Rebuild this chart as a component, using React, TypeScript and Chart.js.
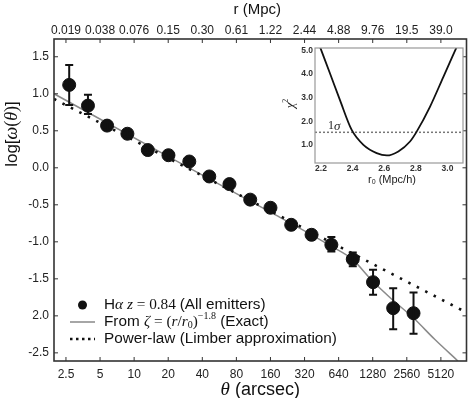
import React, { useEffect, useRef } from 'react';
import { Chart, registerables } from 'chart.js';

Chart.register(...registerables);

const SANS = '"Liberation Sans", Arial, sans-serif';
const SERIF = '"Liberation Serif", "DejaVu Serif", serif';

// ---- main panel axes ----
const thetaTicks = [2.5, 5, 10, 20, 40, 80, 160, 320, 640, 1280, 2560, 5120];
const thetaTickLabels = ['2.5', '5', '10', '20', '40', '80', '160', '320', '640', '1280', '2560', '5120'];
const rTickLabels = ['0.019', '0.038', '0.076', '0.15', '0.30', '0.61', '1.22', '2.44', '4.88', '9.76', '19.5', '39.0'];
const yTicks = [1.5, 1.0, 0.5, 0.0, -0.5, -1.0, -1.5, -2.0, -2.5];
const yTickLabels = ['1.5', '1.0', '0.5', '0.0', '-0.5', '-1.0', '-1.5', '2.0', '-2.5'];

// ---- measured data (Halpha z=0.84, all emitters) ----
const thetaData = [2.67, 3.91, 5.77, 8.72, 13.2, 20.1, 30.7, 46.1, 69.5, 106, 160, 244, 369, 552, 853, 1289, 1941, 2935];
const logW = [1.12, 0.84, 0.57, 0.46, 0.24, 0.17, 0.085, -0.117, -0.22, -0.43, -0.54, -0.77, -0.905, -1.04, -1.235, -1.545, -1.896, -1.964];
const errLow = [0.85, 0.726, 0.52, 0.42, 0.21, 0.14, 0.06, -0.14, -0.25, -0.46, -0.57, -0.80, -0.94, -1.131, -1.33, -1.716, -2.18, -2.243];
const errHigh = [1.39, 0.986, 0.62, 0.50, 0.27, 0.20, 0.11, -0.09, -0.19, -0.40, -0.51, -0.74, -0.87, -0.936, -1.145, -1.378, -1.626, -1.684];

// exact model from zeta = (r/r0)^-1.8
const exactTheta = [1.96, 20.1, 160, 369, 552, 853, 1274, 1903, 2935, 4535, 7240];
const exactLogW = [1.0, 0.15, -0.60, -0.905, -1.06, -1.24, -1.53, -1.78, -2.03, -2.32, -2.61];

// power-law (Limber approximation)
const limberTheta = [1.96, 8620];
const limberLogW = [0.93, -1.955];

// ---- inset: chi^2 vs r0 ----
const r0Ticks = [2.2, 2.4, 2.6, 2.8, 3.0];
const chiTicks = [1.0, 2.0, 3.0, 4.0, 5.0];
const r0Values = [2.194, 2.257, 2.32, 2.394, 2.468, 2.552, 2.616, 2.689, 2.763, 2.805, 2.889, 2.974, 3.058];
const chi2Values = [5.14, 4.02, 2.89, 1.63, 1.0, 0.65, 0.55, 0.72, 1.14, 1.56, 2.61, 3.88, 5.14];
const sigmaLevel = 1.53;
const r0Range = [2.162, 3.098];

type Seg = { t: string; f: string; dy?: number };

function drawRich(ctx: CanvasRenderingContext2D, segs: Seg[], x: number, y: number, align: 'left' | 'center') {
  let total = 0;
  for (const s of segs) {
    ctx.font = s.f;
    total += ctx.measureText(s.t).width;
  }
  let cx = align === 'center' ? x - total / 2 : x;
  ctx.textAlign = 'left';
  ctx.textBaseline = 'middle';
  for (const s of segs) {
    ctx.font = s.f;
    ctx.fillText(s.t, cx, y + (s.dy || 0));
    cx += ctx.measureText(s.t).width;
  }
}

const mainPlugin = {
  id: 'mainDecor',
  afterDatasetsDraw(chart: any) {
    const { ctx } = chart;
    const xs = chart.scales.x;
    const ys = chart.scales.y;
    ctx.save();
    ctx.strokeStyle = '#111';
    ctx.lineWidth = 2;
    thetaData.forEach((t, i) => {
      const px = xs.getPixelForValue(t);
      const y1 = ys.getPixelForValue(errLow[i]);
      const y2 = ys.getPixelForValue(errHigh[i]);
      ctx.beginPath();
      ctx.moveTo(px, y1);
      ctx.lineTo(px, y2);
      ctx.moveTo(px - 4, y1);
      ctx.lineTo(px + 4, y1);
      ctx.moveTo(px - 4, y2);
      ctx.lineTo(px + 4, y2);
      ctx.stroke();
    });
    ctx.restore();
  },
  afterDraw(chart: any) {
    const { ctx, chartArea: ca } = chart;
    const xs = chart.scales.x;
    const ys = chart.scales.y;
    ctx.save();
    // frame
    ctx.strokeStyle = '#333';
    ctx.lineWidth = 1.6;
    ctx.strokeRect(ca.left, ca.top, ca.right - ca.left, ca.bottom - ca.top);
    // inward ticks
    ctx.lineWidth = 1;
    ctx.beginPath();
    thetaTicks.forEach((v) => {
      const px = xs.getPixelForValue(v);
      ctx.moveTo(px, ca.bottom);
      ctx.lineTo(px, ca.bottom - 4);
      ctx.moveTo(px, ca.top);
      ctx.lineTo(px, ca.top + 4);
    });
    yTicks.forEach((v) => {
      const py = ys.getPixelForValue(v);
      ctx.moveTo(ca.left, py);
      ctx.lineTo(ca.left + 4, py);
      ctx.moveTo(ca.right, py);
      ctx.lineTo(ca.right - 4, py);
    });
    ctx.stroke();

    // titles
    ctx.fillStyle = '#111';
    const cx = (ca.left + ca.right) / 2;
    drawRich(ctx, [{ t: 'r (Mpc)', f: `15px ${SANS}` }], cx - 3, 10, 'center');
    drawRich(
      ctx,
      [
        { t: 'θ', f: `italic 19px ${SERIF}` },
        { t: ' (arcsec)', f: `18px ${SANS}` },
      ],
      cx,
      390,
      'center'
    );
    ctx.save();
    ctx.translate(12, 134);
    ctx.rotate(-Math.PI / 2);
    drawRich(
      ctx,
      [
        { t: 'log[', f: `17px ${SANS}` },
        { t: 'ω', f: `italic 18px ${SERIF}` },
        { t: '(', f: `18px ${SERIF}` },
        { t: 'θ', f: `italic 18px ${SERIF}` },
        { t: ')', f: `18px ${SERIF}` },
        { t: ']', f: `17px ${SANS}` },
      ],
      0,
      0,
      'center'
    );
    ctx.restore();

    // legend
    const lx0 = 70;
    const lx1 = 95;
    const tx = 104;
    const rows = [305, 322, 339];
    ctx.fillStyle = '#111';
    ctx.beginPath();
    ctx.arc((lx0 + lx1) / 2, rows[0], 4.5, 0, Math.PI * 2);
    ctx.fill();
    ctx.strokeStyle = '#888';
    ctx.lineWidth = 1.5;
    ctx.beginPath();
    ctx.moveTo(lx0, rows[1]);
    ctx.lineTo(lx1, rows[1]);
    ctx.stroke();
    ctx.strokeStyle = '#111';
    ctx.lineWidth = 2.5;
    ctx.setLineDash([2.5, 3.5]);
    ctx.beginPath();
    ctx.moveTo(lx0, rows[2]);
    ctx.lineTo(lx1, rows[2]);
    ctx.stroke();
    ctx.setLineDash([]);

    const fs = `15.3px ${SANS}`;
    const fi = `italic 15.3px ${SERIF}`;
    const fr = `15.3px ${SERIF}`;
    ctx.fillStyle = '#111';
    drawRich(
      ctx,
      [
        { t: 'H', f: fs },
        { t: 'α', f: fi },
        { t: ' ', f: fr },
        { t: 'z', f: fi },
        { t: ' = 0.84 ', f: fr },
        { t: '(All emitters)', f: fs },
      ],
      tx,
      rows[0],
      'left'
    );
    drawRich(
      ctx,
      [
        { t: 'From ', f: fs },
        { t: 'ζ', f: fi },
        { t: ' = (', f: fr },
        { t: 'r', f: fi },
        { t: '/', f: fr },
        { t: 'r', f: fi },
        { t: '0', f: `10px ${SERIF}`, dy: 3 },
        { t: ')', f: fr },
        { t: '−1.8', f: `10px ${SERIF}`, dy: -6 },
        { t: ' (Exact)', f: fs },
      ],
      tx,
      rows[1],
      'left'
    );
    drawRich(ctx, [{ t: 'Power-law (Limber approximation)', f: fs }], tx, rows[2], 'left');
    ctx.restore();
  },
};

const insetPlugin = {
  id: 'insetDecor',
  beforeDraw(chart: any) {
    const { ctx, chartArea: ca } = chart;
    ctx.save();
    ctx.fillStyle = '#fff';
    ctx.fillRect(ca.left, ca.top, ca.right - ca.left, ca.bottom - ca.top);
    ctx.restore();
  },
  afterDraw(chart: any) {
    const { ctx, chartArea: ca } = chart;
    const ys = chart.scales.y;
    ctx.save();
    ctx.strokeStyle = '#999';
    ctx.lineWidth = 1.2;
    ctx.strokeRect(ca.left, ca.top, ca.right - ca.left, ca.bottom - ca.top);
    ctx.fillStyle = '#222';
    drawRich(
      ctx,
      [
        { t: '1', f: `12px ${SERIF}` },
        { t: 'σ', f: `italic 13px ${SERIF}` },
      ],
      ca.left + 13,
      ys.getPixelForValue(sigmaLevel) - 6,
      'left'
    );
    drawRich(
      ctx,
      [
        { t: 'r', f: `11px ${SANS}` },
        { t: '0', f: `7px ${SANS}`, dy: 2 },
        { t: ' (Mpc/h)', f: `11px ${SANS}` },
      ],
      (ca.left + ca.right) / 2 + 3,
      ca.bottom + 17,
      'center'
    );
    ctx.save();
    ctx.translate(ca.left - 24, (ca.top + ca.bottom) / 2 - 2);
    ctx.rotate(-Math.PI / 2);
    drawRich(
      ctx,
      [
        { t: 'χ', f: `italic 13px ${SERIF}` },
        { t: '2', f: `8px ${SERIF}`, dy: -5 },
      ],
      0,
      0,
      'center'
    );
    ctx.restore();
    ctx.restore();
  },
};

export default function App() {
  const mainRef = useRef<HTMLCanvasElement>(null);
  const insetRef = useRef<HTMLCanvasElement>(null);

  useEffect(() => {
    if (!mainRef.current || !insetRef.current) return;
    const tickFont = { family: SANS, size: 12 };

    const main = new Chart(mainRef.current, {
      type: 'scatter',
      data: {
        datasets: [
          {
            label: 'Hα z = 0.84 (All emitters)',
            data: thetaData.map((t, i) => ({ x: t, y: logW[i] })),
            showLine: false,
            pointRadius: 6.5,
            pointHoverRadius: 6.5,
            backgroundColor: '#111',
            borderColor: '#111',
            order: 0,
          },
          {
            label: 'From ζ=(r/r0)^-1.8 (Exact)',
            data: exactTheta.map((t, i) => ({ x: t, y: exactLogW[i] })),
            showLine: true,
            pointRadius: 0,
            borderColor: '#8a8a8a',
            borderWidth: 1.5,
            cubicInterpolationMode: 'monotone',
            order: 2,
          },
          {
            label: 'Power-law (Limber approximation)',
            data: limberTheta.map((t, i) => ({ x: t, y: limberLogW[i] })),
            showLine: true,
            pointRadius: 0,
            borderColor: '#111',
            borderWidth: 2.6,
            borderDash: [2.5, 7],
            order: 1,
          },
        ],
      } as any,
      options: {
        responsive: false,
        animation: false,
        devicePixelRatio: 1,
        layout: { padding: { top: 0, right: 2, bottom: 0, left: 0 } },
        plugins: { legend: { display: false }, tooltip: { enabled: false } },
        scales: {
          x: {
            type: 'logarithmic',
            position: 'bottom',
            min: 1.96,
            max: 8620,
            grid: { display: false },
            border: { display: false },
            afterBuildTicks: (a: any) => {
              a.ticks = thetaTicks.map((v) => ({ value: v }));
            },
            afterFit: (s: any) => {
              s.height = 37;
            },
            ticks: {
              autoSkip: false,
              maxRotation: 0,
              minRotation: 0,
              padding: -2,
              color: '#222',
              font: tickFont,
              callback: (_v: any, i: number) => thetaTickLabels[i],
            },
          },
          x2: {
            type: 'logarithmic',
            position: 'top',
            min: 1.96,
            max: 8620,
            grid: { display: false },
            border: { display: false },
            afterBuildTicks: (a: any) => {
              a.ticks = thetaTicks.map((v) => ({ value: v }));
            },
            afterFit: (s: any) => {
              s.height = 39;
            },
            ticks: {
              autoSkip: false,
              maxRotation: 0,
              minRotation: 0,
              padding: -7,
              color: '#222',
              font: tickFont,
              callback: (_v: any, i: number) => rTickLabels[i],
            },
          },
          y: {
            type: 'linear',
            min: -2.61,
            max: 1.74,
            grid: { display: false },
            border: { display: false },
            afterBuildTicks: (a: any) => {
              a.ticks = yTicks.map((v) => ({ value: v }));
            },
            afterFit: (s: any) => {
              s.width = 54;
            },
            ticks: {
              padding: -3,
              color: '#222',
              font: tickFont,
              callback: (_v: any, i: number) => yTickLabels[i],
            },
          },
        },
      } as any,
      plugins: [mainPlugin],
    });

    const insetFont = { family: SANS, size: 8.5, weight: 'bold' };
    const inset = new Chart(insetRef.current, {
      type: 'scatter',
      data: {
        datasets: [
          {
            data: r0Values.map((r, i) => ({ x: r, y: chi2Values[i] })),
            showLine: true,
            pointRadius: 0,
            borderColor: '#111',
            borderWidth: 1.8,
            cubicInterpolationMode: 'monotone',
          },
          {
            data: r0Range.map((r) => ({ x: r, y: sigmaLevel })),
            showLine: true,
            pointRadius: 0,
            borderColor: '#777',
            borderWidth: 1.5,
            borderDash: [2, 2],
          },
        ],
      } as any,
      options: {
        responsive: false,
        animation: false,
        devicePixelRatio: 1,
        layout: { padding: { top: 8, right: 7, bottom: 0, left: 0 } },
        plugins: { legend: { display: false }, tooltip: { enabled: false } },
        scales: {
          x: {
            type: 'linear',
            min: r0Range[0],
            max: r0Range[1],
            grid: { display: false },
            border: { display: false },
            afterBuildTicks: (a: any) => {
              a.ticks = r0Ticks.map((v) => ({ value: v }));
            },
            afterFit: (s: any) => {
              s.height = 27;
            },
            ticks: {
              autoSkip: false,
              maxRotation: 0,
              padding: -7,
              color: '#333',
              font: insetFont,
              callback: (v: any) => Number(v).toFixed(1),
            },
          },
          y: {
            type: 'linear',
            min: 0.23,
            max: 5.1,
            grid: { display: false },
            border: { display: false },
            afterBuildTicks: (a: any) => {
              a.ticks = chiTicks.map((v) => ({ value: v }));
            },
            afterFit: (s: any) => {
              s.width = 45;
            },
            ticks: {
              padding: -6,
              color: '#333',
              font: insetFont,
              callback: (v: any) => Number(v).toFixed(1),
            },
          },
        },
      } as any,
      plugins: [insetPlugin],
    });

    return () => {
      main.destroy();
      inset.destroy();
    };
  }, []);

  return (
    <div style={{ position: 'absolute', left: 0, top: 0, width: 474, height: 398, background: '#fff' }}>
      <canvas ref={mainRef} width={474} height={398} style={{ position: 'absolute', left: 0, top: 0 }} />
      <canvas ref={insetRef} width={200} height={150} style={{ position: 'absolute', left: 270, top: 40 }} />
    </div>
  );
}
